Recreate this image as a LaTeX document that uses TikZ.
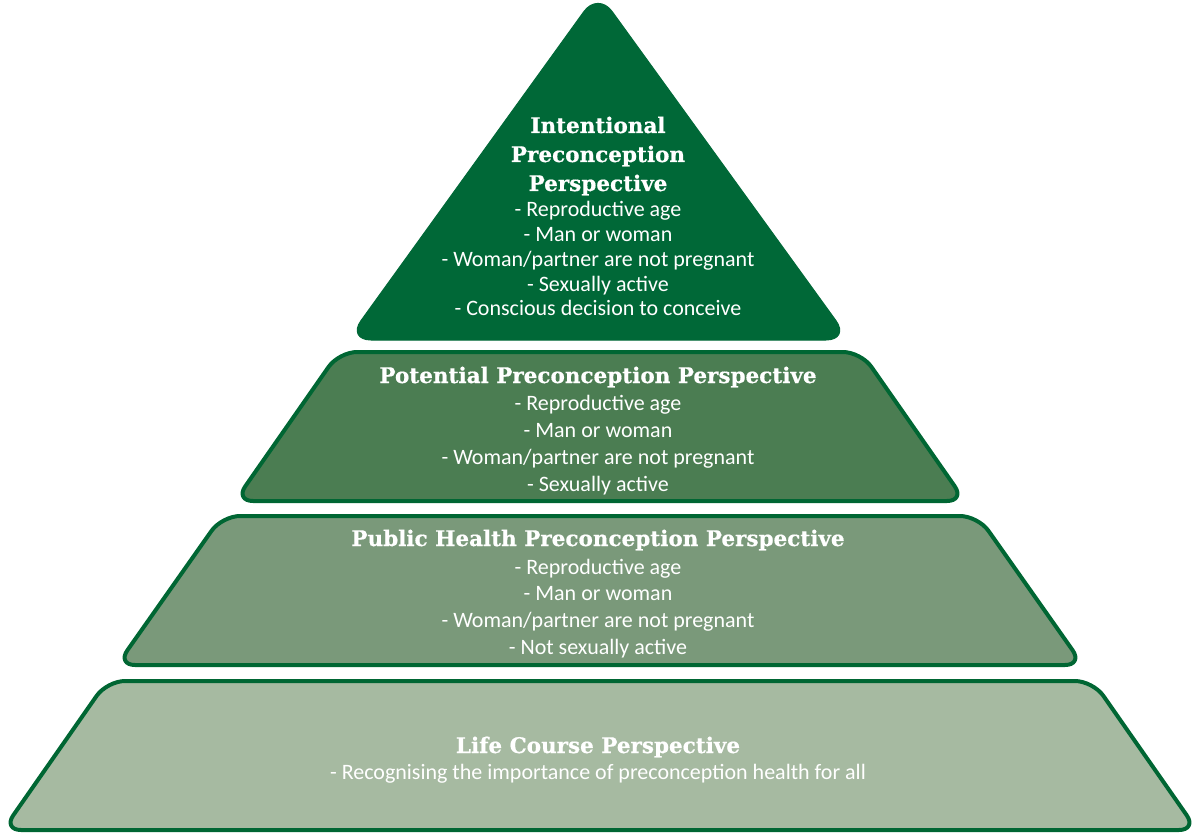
\documentclass[tikz,border=0pt]{standalone}
\usepackage{fontspec}
\setmainfont{Carlito}
\newfontfamily\headfont{DejaVu Serif}[BoldFont={DejaVu Serif Bold},BoldFeatures={FakeBold=0.6}]
\definecolor{cone}{HTML}{006837}
\definecolor{ctwo}{HTML}{4B7D52}
\definecolor{cthree}{HTML}{7A997A}
\definecolor{cfour}{HTML}{A6BAA1}
\definecolor{bd}{HTML}{006633}
\begin{document}
\begin{tikzpicture}[x=1pt,y=-1pt,
  layer/.style={draw=bd,line width=4pt,rounded corners=18pt,line join=round},
  apexshape/.style={fill=cone,draw=cone,line width=1pt,rounded corners=24pt,line join=round},
  head/.style={text=white,font=\headfont\bfseries\fontsize{21.5}{21.5}\selectfont,inner sep=0pt,anchor=base},
  body/.style={text=white,font=\fontsize{22}{22}\selectfont,inner sep=0pt,anchor=base}]
\useasboundingbox (0,0) rectangle (1200,837);

% shapes
\path[apexshape] (598,-8) -- (850,340) -- (347,340) -- cycle;
\path[layer,fill=ctwo] (339,352) -- (861,352) -- (965,501) -- (235,501) -- cycle;
\path[layer,fill=cthree] (222,516) -- (978,516) -- (1083,665) -- (117,665) -- cycle;
\path[layer,fill=cfour] (107,681) -- (1093,681) -- (1197,830) -- (3,830) -- cycle;

% top
\node[head] (ah1) at (598,133) {Intentional};
\node[head] (ah2) at (598,162) {Preconception};
\node[head] (ah3) at (598,191) {Perspective};
\node[body] (ab1) at (598,217) {- Reproductive age};
\node[body] (ab2) at (598,242) {- Man or woman};
\node[body] (ab3) at (598,267) {- Woman/partner are not pregnant};
\node[body] (ab4) at (598,291) {- Sexually active};
\node[body] (ab5) at (598,316) {- Conscious decision to conceive};

% second
\node[head] (bh1) at (598,383) {Potential Preconception Perspective};
\node[body] (bb1) at (598,410) {- Reproductive age};
\node[body] (bb2) at (598,437) {- Man or woman};
\node[body] (bb3) at (598,464) {- Woman/partner are not pregnant};
\node[body] (bb4) at (598,491) {- Sexually active};

% third
\node[head] (ch1) at (598,546) {Public Health Preconception Perspective};
\node[body] (cb1) at (598,574) {- Reproductive age};
\node[body] (cb2) at (598,600) {- Man or woman};
\node[body] (cb3) at (598,627) {- Woman/partner are not pregnant};
\node[body] (cb4) at (598,654) {- Not sexually active};

% fourth
\node[head] (dh1) at (598,753) {Life Course Perspective};
\node[body] (db1) at (598,779) {- Recognising the importance of preconception health for all};
\end{tikzpicture}
\end{document}
